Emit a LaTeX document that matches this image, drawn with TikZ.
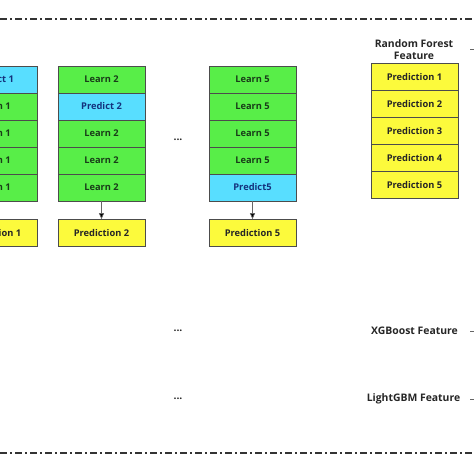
\documentclass[tikz,border=0pt]{standalone}
\usepackage{fontspec}
\setmainfont{Open Sans}
\usetikzlibrary{arrows.meta}
\definecolor{learngreen}{RGB}{88,238,72}
\definecolor{predblue}{RGB}{88,222,255}
\definecolor{resyellow}{RGB}{252,250,60}
\definecolor{learntext}{RGB}{25,60,25}
\definecolor{predtext}{RGB}{20,50,125}
\begin{document}
\begin{tikzpicture}[x=1pt,y=-1pt]
\tikzset{every node/.style={font=\bfseries\fontsize{9.3}{12.5}\selectfont,inner sep=0pt}}
\tikzset{cell/.style={draw=black!70,line width=0.6pt,minimum width=87pt,minimum height=27pt}}
\tikzset{learn/.style={cell,fill=learngreen,text=learntext}}
\tikzset{pred/.style={cell,fill=predblue,text=predtext}}
\tikzset{result/.style={cell,fill=resyellow,text=black!85}}
\tikzset{featlabel/.style={font=\bfseries\fontsize{10.4}{13}\selectfont,text=black!85,align=center}}
\tikzset{frame/.style={draw=black!80,line width=1.4pt,dash pattern=on 7pt off 3pt on 2pt off 3pt}}
\tikzset{feed/.style={draw=black!60,line width=0.7pt,-{Triangle[length=6pt,width=5pt,fill=black]}}}
\clip (0,0) rectangle (474,474);
% outer frame lines
\coordinate (fl) at (0,19);
\coordinate (fr) at (474,19);
\coordinate (bl) at (0,453);
\coordinate (br) at (474,453);
\draw [frame] (fl) -- (fr);
\draw [frame] (bl) -- (br);
% fold 1
\node [pred] (c1r1) at (-6.5,79.5) {Predict 1};
\node [learn] (c1r2) at (-6.5,106.5) {Learn 1};
\node [learn] (c1r3) at (-6.5,133.5) {Learn 1};
\node [learn] (c1r4) at (-6.5,160.5) {Learn 1};
\node [learn] (c1r5) at (-6.5,187.5) {Learn 1};
\node [result] (c1out) at (-6.5,233) {Prediction 1};
\draw [feed] (c1r5) -- (c1out);
% fold 2
\node [learn] (c2r1) at (101.5,79.5) {Learn 2};
\node [pred] (c2r2) at (101.5,106.5) {Predict 2};
\node [learn] (c2r3) at (101.5,133.5) {Learn 2};
\node [learn] (c2r4) at (101.5,160.5) {Learn 2};
\node [learn] (c2r5) at (101.5,187.5) {Learn 2};
\node [result] (c2out) at (101.5,233) {Prediction 2};
\draw [feed] (c2r5) -- (c2out);
% fold 5
\node [learn] (c5r1) at (252.5,79.5) {Learn 5};
\node [learn] (c5r2) at (252.5,106.5) {Learn 5};
\node [learn] (c5r3) at (252.5,133.5) {Learn 5};
\node [learn] (c5r4) at (252.5,160.5) {Learn 5};
\node [pred] (c5r5) at (252.5,187.5) {Predict5};
\node [result] (c5out) at (252.5,233) {Prediction 5};
\draw [feed] (c5r5) -- (c5out);
% dots
\node [featlabel] (dots1) at (178,140) {...};
\node [featlabel] (dots2) at (178,331) {...};
\node [featlabel] (dots3) at (178,399) {...};
% stacked features
\node [featlabel] (rflabel) at (414,49.5) {Random Forest\\[-0.5pt]Feature};
\node [result] (rf1) at (414.5,77) {Prediction 1};
\node [result] (rf2) at (414.5,104) {Prediction 2};
\node [result] (rf3) at (414.5,131) {Prediction 3};
\node [result] (rf4) at (414.5,158) {Prediction 4};
\node [result] (rf5) at (414.5,185) {Prediction 5};
\node [featlabel] (xgblabel) at (414.5,331) {XGBoost Feature};
\node [featlabel] (lgblabel) at (413.5,399) {LightGBM Feature};
% leads to the right
\coordinate (edge) at (470,0);
\draw [black!60,line width=0.7pt] (rflabel -| edge) -- ++(10,0);
\draw [black!60,line width=0.7pt] (xgblabel -| edge) -- ++(10,0);
\draw [black!60,line width=0.7pt] (lgblabel -| edge) -- ++(10,0);
\end{tikzpicture}
\end{document}
